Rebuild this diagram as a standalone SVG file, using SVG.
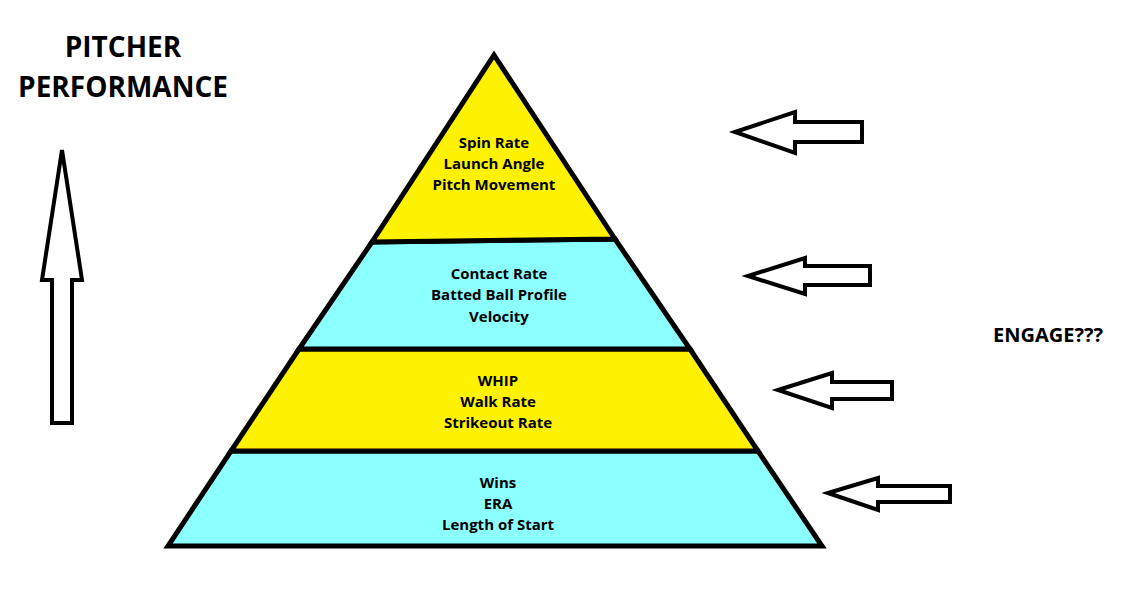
<svg xmlns="http://www.w3.org/2000/svg" width="1130" height="593" viewBox="0 0 1130 593">
<style>
.band{stroke:#000;stroke-width:5;stroke-linejoin:miter}
.y{fill:#fff200}.c{fill:#8cffff}
.arr{fill:#fff;stroke:#000;stroke-width:4}
text{font-family:"Open Sans","Noto Sans","Liberation Sans",sans-serif;font-weight:bold;fill:#000}
.t{font-size:15px;text-anchor:middle}
.h{font-size:28px;text-anchor:middle}
</style>
<rect width="1130" height="593" fill="#fff"/>
<g id="level4"><polygon class="band c" points="231,451 758,451 822,546 168,546"/>
<text class="t" x="498" y="488">Wins</text><text class="t" x="498" y="509">ERA</text><text class="t" x="498" y="530">Length of Start</text></g>
<g id="level3"><polygon class="band y" points="299,349 690,349 758,451 231,451"/>
<text class="t" x="498" y="386">WHIP</text><text class="t" x="498" y="407">Walk Rate</text><text class="t" x="498" y="428">Strikeout Rate</text></g>
<g id="level2"><polygon class="band c" points="372,242 615,239 690,349 299,349"/>
<text class="t" x="499" y="279">Contact Rate</text><text class="t" x="499" y="300">Batted Ball Profile</text><text class="t" x="499" y="322">Velocity</text></g>
<g id="level1"><polygon class="band y" points="494,55 615,239 372,242"/>
<text class="t" x="494" y="148">Spin Rate</text><text class="t" x="494" y="169">Launch Angle</text><text class="t" x="494" y="190">Pitch Movement</text></g>
<g id="title"><text class="h" x="123" y="57">PITCHER</text><text class="h" x="123" y="97">PERFORMANCE</text></g>
<g id="engage"><text x="993" y="342" style="font-size:20px">ENGAGE???</text></g>
<g id="connectors">
<polygon class="arr" points="62,150 82,280 72,280 72,423 52,423 52,280 42,280"/>
<polygon class="arr" points="735,132 795,112 795,122 862,122 862,142 795,142 795,153"/>
<polygon class="arr" points="748,276 805,258 805,266 870,266 870,285 805,285 805,294"/>
<polygon class="arr" points="778,390 832,373 832,382 892,382 892,399 832,399 832,408"/>
<polygon class="arr" points="828,493 878,478 878,486 950,486 950,502 878,502 878,510"/>
</g>
</svg>
